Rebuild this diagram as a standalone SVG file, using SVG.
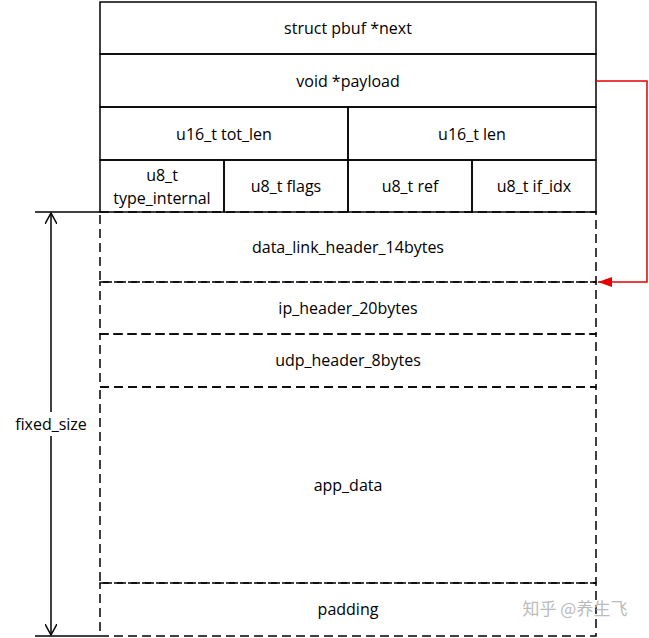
<svg xmlns="http://www.w3.org/2000/svg" width="649" height="638" viewBox="0 0 649 638">
<style>
.s{fill:none;stroke:#000;stroke-width:1.5}
.d{fill:none;stroke:#000;stroke-width:1.5;stroke-dasharray:9,5}
text{font-family:"Open Sans","Liberation Sans",sans-serif;font-size:16px;fill:#000;text-anchor:middle}
</style>
<defs>
<marker id="open" viewBox="0 0 12 12" refX="11" refY="6" markerWidth="12" markerHeight="12" markerUnits="userSpaceOnUse" orient="auto"><path d="M0,0 L11,6 L0,12" fill="none" stroke="#000" stroke-width="1.5"/></marker>
<marker id="red" viewBox="0 0 14 10" refX="14" refY="5" markerWidth="14" markerHeight="10" markerUnits="userSpaceOnUse" orient="auto"><path d="M0,0 L14,5 L0,10 Z" fill="#e60000"/></marker>
</defs>
<rect width="649" height="638" fill="#fff"/>
<g id="next"><rect class="s" x="100" y="2" width="496" height="52"/><text x="348" y="34">struct pbuf *next</text></g>
<g id="payload"><rect class="s" x="100" y="54" width="496" height="53"/><text x="348" y="87">void *payload</text></g>
<g id="tot_len"><rect class="s" x="100" y="107" width="248" height="53"/><text x="224" y="140">u16_t tot_len</text></g>
<g id="len"><rect class="s" x="348" y="107" width="248" height="53"/><text x="472" y="140">u16_t len</text></g>
<g id="type_internal"><rect class="s" x="100" y="160" width="124" height="52"/><text x="162" y="181">u8_t</text><text x="162" y="204">type_internal</text></g>
<g id="flags"><rect class="s" x="224" y="160" width="124" height="52"/><text x="286" y="192">u8_t flags</text></g>
<g id="ref"><rect class="s" x="348" y="160" width="124" height="52"/><text x="410" y="192">u8_t ref</text></g>
<g id="if_idx"><rect class="s" x="472" y="160" width="124" height="52"/><text x="534" y="192">u8_t if_idx</text></g>
<g id="dll"><rect class="d" x="100" y="212" width="496" height="70"/><text x="348" y="253">data_link_header_14bytes</text></g>
<g id="ip"><rect class="d" x="100" y="282" width="496" height="52"/><text x="348" y="314">ip_header_20bytes</text></g>
<g id="udp"><rect class="d" x="100" y="334" width="496" height="53"/><text x="348" y="366">udp_header_8bytes</text></g>
<g id="app"><rect class="d" x="100" y="387" width="496" height="196"/><text x="348" y="491">app_data</text></g>
<g id="padding"><rect class="d" x="100" y="583" width="496" height="53"/><text x="348" y="615">padding</text></g>
<g id="connectors">
<line class="s" x1="35" y1="212" x2="100" y2="212"/>
<line class="s" x1="35" y1="636" x2="100" y2="636"/>
<line class="s" x1="51" y1="424" x2="51" y2="213" marker-end="url(#open)"/>
<line class="s" x1="51" y1="424" x2="51" y2="635" marker-end="url(#open)"/>
<polyline points="596,81 647,81 647,282 598,282" fill="none" stroke="#e60000" stroke-width="1.5" marker-end="url(#red)"/>
</g>
<g id="fixed_size"><rect x="8" y="412" width="86" height="24" fill="#fff"/><text x="51" y="430">fixed_size</text></g>
<text x="575" y="615" style="font-family:'Noto Sans CJK SC',sans-serif;fill:#bbb;font-size:17px">知乎 @养生飞</text>
</svg>
